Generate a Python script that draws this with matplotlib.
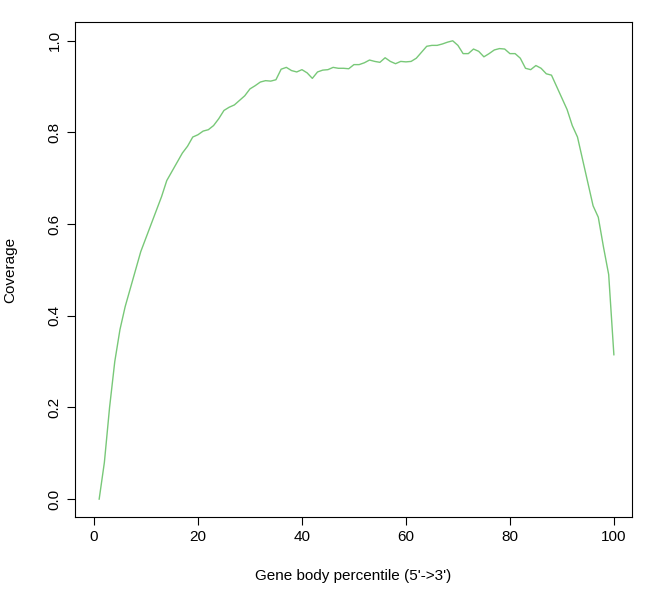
import matplotlib
matplotlib.use("Agg")
import matplotlib.pyplot as plt

percentile = list(range(1, 101))
coverage = [0.0,0.08,0.2,0.3,0.37,0.42,0.46,0.5,0.54,0.57,0.6,0.63,0.66,0.695,0.715,0.735,0.755,0.77,0.79,0.795,
0.803,0.806,0.815,0.83,0.848,0.855,0.86,0.87,0.88,0.895,0.902,0.91,0.913,0.912,0.915,0.938,0.942,0.935,0.932,0.937,
0.93,0.918,0.932,0.936,0.937,0.942,0.94,0.94,0.939,0.948,0.948,0.952,0.958,0.955,0.953,0.963,0.955,0.95,0.955,0.954,
0.955,0.962,0.975,0.988,0.99,0.99,0.993,0.997,1.0,0.99,0.972,0.972,0.982,0.977,0.965,0.972,0.98,0.983,0.982,0.972,
0.972,0.962,0.94,0.937,0.946,0.94,0.928,0.925,0.9,0.875,0.85,0.815,0.79,0.74,0.69,0.64,0.615,0.55,0.49,0.315]

plt.rcParams['font.family'] = ['Liberation Sans', 'DejaVu Sans']
fig = plt.figure(figsize=(6.55, 6.01), dpi=100)
ax = fig.add_axes([0.1145, 0.1398, 0.8505, 0.8236])
ax.plot(percentile, coverage, color='#78c878', lw=1)
ax.set_xlim(-3.65, 103.5)
ax.set_ylim(-0.039, 1.041)
ax.set_xticks([0, 20, 40, 60, 80, 100])
ax.set_yticks([0.0, 0.2, 0.4, 0.6, 0.8, 1.0])
ax.set_yticklabels(['0.0', '0.2', '0.4', '0.6', '0.8', '1.0'], rotation=90, va='center')
ax.tick_params(labelsize=11, length=6)
ax.set_xlabel("Gene body percentile (5'->3')", fontsize=11, labelpad=18)
ax.set_ylabel("Coverage", fontsize=11, labelpad=22)
fig.savefig("out.png", dpi=100)
